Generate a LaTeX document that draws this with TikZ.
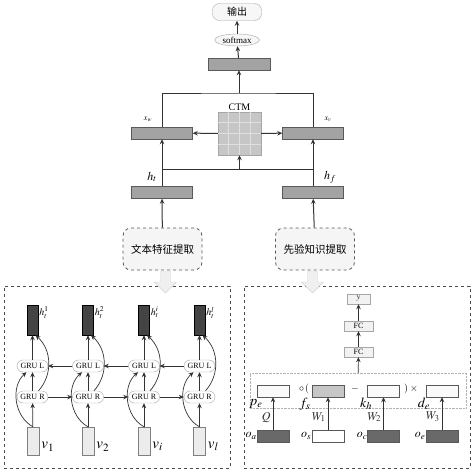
\documentclass[tikz,border=0pt]{standalone}
\usepackage{mathptmx}
\usepackage[no-math]{fontspec}
\setmainfont{Liberation Serif}
\newfontfamily\cjk{Noto Sans CJK SC}
\usepackage{tikz}
\usetikzlibrary{positioning,shapes.geometric,arrows.meta}

\definecolor{ink}{HTML}{333333}
\definecolor{barfill}{HTML}{A3A3A3}
\definecolor{darkfill}{HTML}{444444}

\begin{document}
\begin{tikzpicture}[x=1pt, y=-1pt,
  bar/.style={draw=gray!70!black, fill=barfill, minimum width=61pt, minimum height=12pt, inner sep=0pt},
  pill/.style={draw=gray!70, fill=gray!6, rounded corners=#1, inner sep=0pt},
  extract/.style={draw=gray!70!black, dashed, thick, fill=gray!8, rounded corners=8pt,
    minimum width=79pt, minimum height=42pt, font=\cjk\fontsize{10.5}{12}\selectfont},
  panel/.style={draw=gray!60!black, dashed, thick, minimum width=226pt, minimum height=182pt, inner sep=0pt},
  hollow/.style={draw=gray!35, fill=gray!12, line join=round},
  hbar/.style={draw=black, fill=darkfill, minimum width=11pt, minimum height=30pt, inner sep=0pt},
  vbox/.style={draw=gray, fill=gray!15, minimum width=12pt, minimum height=28pt, inner sep=0pt},
  gru/.style={draw=gray!70, fill=white, rounded corners=6pt, minimum width=31pt, minimum height=12pt,
    inner sep=1pt, font=\fontsize{8}{9}\selectfont},
  fcbox/.style={draw=gray!70, fill=gray!10, minimum width=29pt, minimum height=10pt, inner sep=0pt,
    font=\fontsize{8}{9}\selectfont},
  vec/.style={draw=gray!70!black, fill=#1, minimum width=32pt, minimum height=12pt, inner sep=0pt},
  lab/.style={font=\fontsize{#1}{#1}\selectfont, inner sep=0pt},
  arr/.style={->, ink, line width=1pt},
  thin arr/.style={->, ink, line width=0.7pt},
  >={Stealth[length=5pt, width=4.5pt]}
]
\useasboundingbox (0,0) rectangle (474,471);

% Output head
\node[pill=7pt, minimum width=49pt, minimum height=17pt, font=\cjk\fontsize{10}{12}\selectfont] (out) at (237,12) {输出};
\node[ellipse, draw=gray!70, fill=gray!6, minimum width=45pt, minimum height=12pt, inner sep=0pt, font=\small] (soft) at (237,40) {softmax};
\node[bar, minimum width=62pt] (top) at (239,64) {};
\draw[arr] (soft) -- (out);
\draw[arr] (top) -- (soft);

% CTM and fused features
\node[bar] (xw) at (162,133) {};
\node[bar] (xv) at (313,133) {};
\node[lab=8] at (148,119) {$x_w$};
\node[lab=8] at (328,119) {$x_v$};
\node[draw=gray!70, fill=gray!45, minimum width=43pt, minimum height=43pt, inner sep=0pt] (ctm) at (239.5,133.5) {};
\foreach \i in {1,2,3} {
  \draw[white!75!gray] ([xshift=\i*10.75pt]ctm.north west) -- ([xshift=\i*10.75pt]ctm.south west);
  \draw[white!75!gray] ([yshift=-\i*10.75pt]ctm.north west) -- ([yshift=-\i*10.75pt]ctm.north east);
}
\node[above=1pt of ctm, inner sep=0pt] (ctmname) {CTM};
\draw[arr] (ctm) -- (xw);
\draw[arr] (ctm) -- (xv);
\coordinate (join) at (239,93);
\draw[ink, line width=1pt] (xw.north) |- (join) -| (xv.north);
\draw[arr] (join) -- (top);

% Encoded features
\node[bar] (ht) at (162,192.5) {};
\node[bar] (hf) at (313,192.5) {};
\node[lab=12] at (152,177) {$h_t$};
\node[lab=12] at (330,177) {$h_f$};
\draw[arr] (ht) -- (xw);
\draw[arr] (hf) -- (xv);
\coordinate (tl) at (162,169);
\coordinate (tr) at (313,169);
\coordinate (tm) at (239.5,169);
\draw[ink, line width=1pt] (tl) -- (tr);
\draw[arr] (tm) -- (ctm);

% Extraction modules
\node[extract] (txt) at (162.5,249) {文本特征提取};
\node[extract] (pk) at (315,249) {先验知识提取};
\draw[arr] (txt) -- (ht);
\draw[arr] (pk) -- (hf);

% Panels
\node[panel] (lpanel) at (117,377) {};
\node[panel] (rpanel) at (357,377) {};
\coordinate (down1) at (165.5,271);
\coordinate (down2) at (312.5,271);
\draw[hollow] ([xshift=-5pt]down1) -- ++(0,11) -- ++(-6,0) -- ++(11,11) -- ++(11,-11) -- ++(-6,0) -- ++(0,-11) -- cycle;
\draw[hollow] ([xshift=-5pt]down2) -- ++(0,11) -- ++(-6,0) -- ++(11,11) -- ++(11,-11) -- ++(-6,0) -- ++(0,-11) -- cycle;

% BiGRU columns
\node[hbar] (h1) at (32.5,320) {};
\node[hbar] (h2) at (88,320) {};
\node[hbar] (h3) at (144,320) {};
\node[hbar] (h4) at (199.5,320) {};
\node[lab=10, anchor=north west] at ([xshift=1pt,yshift=-2pt]h1.north east) {$h_t^1$};
\node[lab=10, anchor=north west] at ([xshift=1pt,yshift=-2pt]h2.north east) {$h_t^2$};
\node[lab=10, anchor=north west] at ([xshift=1pt,yshift=-2pt]h3.north east) {$h_t^i$};
\node[lab=10, anchor=north west] at ([xshift=1pt,yshift=-2pt]h4.north east) {$h_t^l$};

\node[gru] (gl1) at (32.5,366) {GRU L};
\node[gru] (gl2) at (88,366) {GRU L};
\node[gru] (gl3) at (144,366) {GRU L};
\node[gru] (gl4) at (199.5,366) {GRU L};
\node[gru] (gr1) at (32.5,397) {GRU R};
\node[gru] (gr2) at (88,397) {GRU R};
\node[gru] (gr3) at (144,397) {GRU R};
\node[gru] (gr4) at (199.5,397) {GRU R};

\node[vbox] (v1) at (33,441) {};
\node[vbox] (v2) at (88,441) {};
\node[vbox] (v3) at (144,441) {};
\node[vbox] (v4) at (199.5,441) {};
\node[lab=15, anchor=south west] at ([xshift=2pt,yshift=4pt]v1.south east) {$v_1$};
\node[lab=15, anchor=south west] at ([xshift=2pt,yshift=4pt]v2.south east) {$v_2$};
\node[lab=15, anchor=south west] at ([xshift=2pt,yshift=4pt]v3.south east) {$v_i$};
\node[lab=15, anchor=south west] at ([xshift=2pt,yshift=4pt]v4.south east) {$v_l$};

\draw[thin arr] (v1) -- (gr1);
\draw[thin arr] (v2) -- (gr2);
\draw[thin arr] (v3) -- (gr3);
\draw[thin arr] (v4) -- (gr4);
\draw[thin arr] (gr1) -- (gl1);
\draw[thin arr] (gr2) -- (gl2);
\draw[thin arr] (gr3) -- (gl3);
\draw[thin arr] (gr4) -- (gl4);
\draw[thin arr] (gl1) -- (h1);
\draw[thin arr] (gl2) -- (h2);
\draw[thin arr] (gl3) -- (h3);
\draw[thin arr] (gl4) -- (h4);
\draw[thin arr] (gr1) -- (gr2);
\draw[thin arr] (gr2) -- (gr3);
\draw[thin arr] (gr3) -- (gr4);
\draw[thin arr] (gl4) -- (gl3);
\draw[thin arr] (gl3) -- (gl2);
\draw[thin arr] (gl2) -- (gl1);
\draw[thin arr] (v1.north) to[bend left=55] ([xshift=-6pt]gl1.south);
\draw[thin arr] (v2.north) to[bend left=55] ([xshift=-6pt]gl2.south);
\draw[thin arr] (v3.north) to[bend left=55] ([xshift=-6pt]gl3.south);
\draw[thin arr] (v4.north) to[bend left=55] ([xshift=-6pt]gl4.south);
\draw[thin arr] ([xshift=6pt]gr1.north) to[bend right=45] ([xshift=3pt]h1.south);
\draw[thin arr] ([xshift=6pt]gr2.north) to[bend right=45] ([xshift=3pt]h2.south);
\draw[thin arr] ([xshift=6pt]gr3.north) to[bend right=45] ([xshift=3pt]h3.south);
\draw[thin arr] ([xshift=6pt]gr4.north) to[bend right=45] ([xshift=3pt]h4.south);

% Prior knowledge branch
\node[fcbox, minimum width=23pt] (yout) at (358.5,299) {$y$};
\node[fcbox] (fc2) at (358.5,326) {FC};
\node[fcbox] (fc1) at (358.5,352) {FC};
\node[draw=gray!60, densely dotted, minimum width=216pt, minimum height=35pt, inner sep=0pt] (score) at (358,390.5) {};
\draw[thin arr] (score) -- (fc1);
\draw[thin arr] (fc1) -- (fc2);
\draw[thin arr] (fc2) -- (yout);

\node[vec=gray!4] (pe) at (273,391) {};
\node[vec=gray!45] (fs) at (328,391) {};
\node[vec=gray!4] (kh) at (383.5,391) {};
\node[vec=gray!4] (de) at (442,391) {};
\node[inner sep=0pt] (op1) at (304,389) {$\circ\,($};
\node[inner sep=0pt] (op2) at (355,389) {$-$};
\node[inner sep=0pt] (op3) at (411,389) {$)\;\times$};
\node[lab=14] at (256,404) {$p_e$};
\node[lab=14] at (305,404) {$f_s$};
\node[lab=14] at (366,404) {$k_h$};
\node[lab=14] at (424,404) {$d_e$};

\node[vec=darkfill!80] (oa) at (273,436.5) {};
\node[vec=white] (os) at (328,436.5) {};
\node[vec=darkfill!80] (oc) at (383.5,436.5) {};
\node[vec=darkfill!80] (oe) at (442,436.5) {};
\node[lab=12] at (251,436) {$o_a$};
\node[lab=12] at (306,436) {$o_s$};
\node[lab=12] at (362,436) {$o_c$};
\node[lab=12] at (420,436) {$o_e$};
\draw[thin arr] (oa) -- node[lab=12, left=2pt, pos=0.4] {$Q$} (pe);
\draw[thin arr] (os) -- node[lab=12, left=2pt, pos=0.4] {$W_1$} (fs);
\draw[thin arr] (oc) -- node[lab=12, left=2pt, pos=0.4] {$W_2$} (kh);
\draw[thin arr] (oe) -- node[lab=12, left=2pt, pos=0.4] {$W_3$} (de);

\end{tikzpicture}
\end{document}
